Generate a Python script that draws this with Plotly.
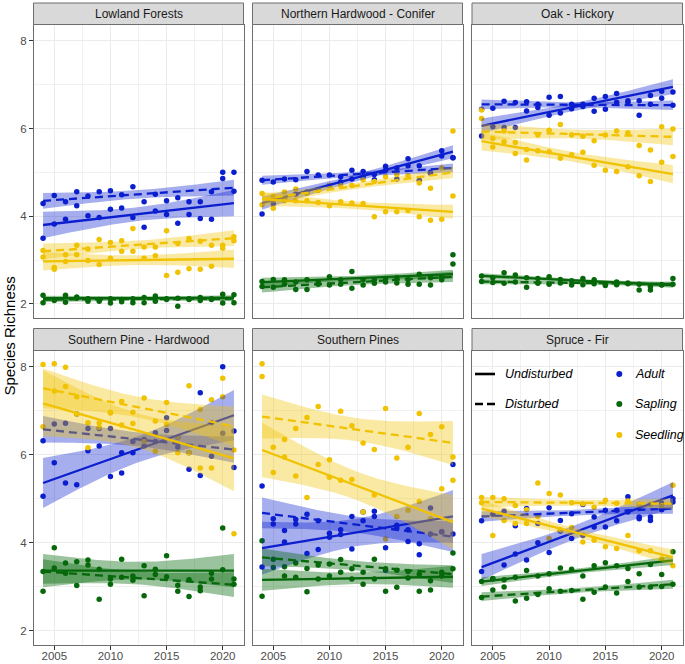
import numpy as np
import plotly.graph_objects as go

W, H = 685, 664

years = list(range(2004, 2022))
panels = ["Lowland Forests", "Northern Hardwood - Conifer", "Oak - Hickory",
          "Southern Pine - Hardwood", "Southern Pines", "Spruce - Fir"]
stages = ["Adult", "Sapling", "Seedling"]
disturbances = ["Undisturbed", "Disturbed"]
x_ticks = [2005, 2010, 2015, 2020]
y_ticks = [2, 4, 6, 8]

# ---------------- observed yearly means ----------------
# Lowland Forests
lf_adult_und = [3.50, 3.82, 3.93, 4.24, 4.01, 3.97, 4.16, 4.19, 3.97, 3.75, 4.12, 4.04, 3.84, 4.04, 3.95, 3.93, 4.86, 4.57]
lf_adult_dis = [4.29, 4.47, 4.33, 4.56, 4.46, 4.56, 4.58, 4.49, 4.67, 4.33, 4.50, 4.35, 4.42, 4.33, 4.33, 4.56, 5.00, 5.00]
lf_sapl_und = [2.20, 2.10, 2.20, 2.16, 2.12, 2.10, 2.12, 2.10, 2.12, 2.15, 2.18, 2.12, 2.13, 2.10, 2.15, 2.12, 2.22, 2.21]
lf_sapl_dis = [2.03, 2.08, 2.04, 2.13, 2.06, 2.06, 2.02, 2.05, 2.03, 2.03, 2.06, 2.10, 1.95, 2.12, 2.08, 2.10, 2.02, 2.03]
lf_seed_und = [3.07, 2.83, 2.97, 3.12, 2.99, 2.90, 3.04, 3.20, 3.20, 3.04, 3.10, 2.65, 2.72, 2.80, 2.79, 2.86, 3.27, 3.44]
lf_seed_dis = [3.22, 2.79, 3.12, 3.34, 3.25, 3.47, 3.40, 3.44, 3.72, 3.30, 3.30, 3.67, 3.38, 3.49, 3.43, 3.34, 3.34, 3.53]
# Northern Hardwood - Conifer
nh_adult_und = [4.05, 4.29, 4.40, 4.50, 4.55, 4.60, 4.70, 4.78, 4.85, 4.90, 4.95, 5.05, 5.10, 5.15, 5.15, 5.00, 5.37, 5.33]
nh_adult_dis = [4.82, 4.78, 4.85, 4.83, 5.02, 4.94, 4.94, 4.90, 5.05, 5.02, 4.83, 5.14, 4.85, 5.31, 4.82, 4.98, 5.49, 5.33]
nh_sapl_und = [2.51, 2.56, 2.55, 2.50, 2.55, 2.50, 2.62, 2.55, 2.74, 2.55, 2.55, 2.58, 2.60, 2.56, 2.68, 2.60, 2.62, 3.12]
nh_sapl_dis = [2.40, 2.38, 2.45, 2.33, 2.33, 2.45, 2.43, 2.45, 2.36, 2.43, 2.47, 2.50, 2.48, 2.45, 2.45, 2.43, 2.55, 2.91]
nh_seed_und = [4.26, 4.18, 4.35, 4.35, 4.35, 4.31, 4.24, 4.33, 4.30, 4.29, 3.99, 4.10, 4.10, 4.13, 3.99, 3.91, 3.93, 4.46]
nh_seed_dis = [4.52, 4.45, 4.55, 4.62, 4.52, 4.60, 4.70, 4.70, 4.70, 4.83, 4.79, 4.90, 4.95, 4.92, 4.76, 4.64, 5.10, 5.94]
# Oak - Hickory
oh_adult_und = [5.83, 6.04, 6.02, 6.02, 6.40, 6.48, 6.30, 6.35, 6.45, 6.50, 6.39, 6.44, 6.60, 6.63, 6.30, 6.75, 6.85, 6.83]
oh_adult_dis = [6.44, 6.46, 6.62, 6.59, 6.61, 6.55, 6.71, 6.73, 6.55, 6.55, 6.69, 6.73, 6.80, 6.60, 6.63, 6.55, 6.69, 6.53]
oh_sapl_und = [2.64, 2.60, 2.71, 2.66, 2.60, 2.58, 2.62, 2.56, 2.53, 2.58, 2.55, 2.45, 2.50, 2.48, 2.32, 2.40, 2.43, 2.58]
oh_sapl_dis = [2.51, 2.49, 2.47, 2.50, 2.38, 2.47, 2.45, 2.48, 2.43, 2.44, 2.46, 2.42, 2.44, 2.46, 2.45, 2.32, 2.44, 2.45]
oh_seed_und = [6.23, 5.58, 5.70, 5.43, 5.28, 5.49, 5.47, 5.32, 5.40, 5.46, 5.16, 5.05, 5.02, 5.13, 4.92, 4.79, 5.23, 5.36]
oh_seed_dis = [6.42, 5.77, 5.94, 5.68, 5.52, 5.85, 5.96, 6.09, 5.85, 5.82, 5.72, 5.85, 5.94, 5.90, 5.61, 5.51, 6.04, 5.99]
# Southern Pine - Hardwood
sph_adult_und = [5.06, 5.82, 5.36, 5.32, 6.09, 6.20, 5.51, 5.59, 6.05, 6.20, 6.30, 6.84, 6.18, 5.67, 7.41, 6.73, 8.00, 5.71]
sph_adult_dis = [6.32, 6.70, 6.72, 6.93, 6.60, 6.60, 6.60, 6.05, 6.30, 6.35, 6.50, 6.55, 6.40, 6.05, 5.53, 5.97, 6.49, 6.54]
sph_sapl_und = [2.90, 3.89, 3.54, 3.57, 3.61, 3.40, 3.18, 3.63, 3.25, 2.80, 3.40, 3.71, 2.90, 2.78, 2.91, 3.31, 4.34, 3.06]
sph_sapl_dis = [3.35, 3.43, 3.31, 3.03, 3.50, 2.72, 3.06, 3.22, 3.15, 3.48, 3.28, 3.23, 3.04, 3.16, 3.00, 3.18, 3.39, 3.18]
sph_seed_und = [6.64, 7.45, 7.55, 7.32, 6.16, 6.73, 6.97, 6.68, 6.71, 6.30, 6.08, 6.69, 6.05, 6.05, 5.70, 5.70, 7.32, 4.21]
sph_seed_dis = [8.05, 8.07, 7.99, 6.93, 6.73, 6.62, 6.95, 7.21, 6.97, 7.29, 6.77, 7.19, 6.40, 7.57, 7.03, 7.25, 7.74, 6.11]
# Southern Pines
sp_adult_und = [3.45, 4.55, 4.02, 4.43, 3.76, 3.85, 4.22, 4.19, 3.86, 4.50, 4.60, 3.89, 4.34, 4.03, 3.98, 4.79, 4.25, 5.78]
sp_adult_dis = [5.29, 4.43, 4.28, 4.53, 4.65, 4.50, 4.13, 4.30, 4.60, 4.70, 4.72, 3.38, 4.40, 4.30, 3.73, 4.20, 4.25, 4.20]
sp_sapl_und = [2.79, 3.44, 3.25, 3.22, 2.89, 3.18, 3.25, 3.33, 3.18, 3.06, 3.18, 2.90, 2.99, 3.20, 2.90, 2.93, 3.25, 3.41]
sp_sapl_dis = [4.05, 3.63, 3.46, 3.54, 3.42, 3.50, 3.52, 3.62, 3.41, 3.33, 3.63, 3.41, 3.38, 3.35, 3.29, 3.14, 3.33, 3.77]
sp_seed_und = [7.78, 5.60, 5.95, 5.52, 5.03, 5.78, 5.49, 5.42, 5.44, 4.70, 5.09, 4.09, 4.60, 4.74, 4.94, 4.55, 5.23, 5.42]
sp_seed_dis = [8.07, 6.17, 6.35, 6.60, 6.85, 7.10, 5.89, 6.99, 6.66, 6.27, 6.12, 7.05, 5.93, 6.17, 6.94, 6.46, 6.64, 5.95]
# Spruce - Fir
sf_adult_und = [3.35, 3.18, 3.50, 3.75, 3.61, 4.00, 3.78, 4.27, 4.10, 4.17, 4.36, 4.36, 4.50, 5.05, 4.55, 4.59, 4.90, 5.00]
sf_adult_dis = [4.50, 4.65, 4.72, 4.39, 4.78, 4.44, 4.80, 4.51, 4.66, 4.87, 4.59, 4.74, 4.74, 4.70, 4.59, 4.51, 4.75, 4.93]
sf_sapl_und = [3.12, 3.19, 3.16, 3.22, 3.37, 3.25, 3.30, 3.43, 3.40, 3.25, 3.48, 3.55, 3.48, 3.42, 3.30, 3.51, 3.28, 3.80]
sf_sapl_dis = [2.76, 2.93, 3.00, 2.68, 2.74, 2.83, 2.96, 2.90, 2.92, 2.72, 2.88, 3.00, 2.86, 3.12, 3.00, 3.00, 3.01, 3.06]
sf_seed_und = [4.91, 4.17, 4.51, 4.44, 4.44, 4.60, 4.10, 4.30, 4.35, 4.02, 4.06, 3.91, 3.87, 4.17, 3.82, 3.82, 3.64, 3.48]
sf_seed_dis = [5.03, 5.03, 5.00, 4.85, 4.75, 5.36, 5.12, 5.09, 4.91, 4.89, 4.81, 4.97, 4.90, 4.95, 4.88, 4.88, 4.85, 5.31]

# ---------------- fitted trends (value at 2004, value at 2021, CI half-width at ends) ----------------
# order: Adult-U, Adult-D, Sapling-U, Sapling-D, Seedling-U, Seedling-D
lf_fit_start = [3.80, 4.35, 2.13, 2.10, 2.97, 3.20]
lf_fit_end = [4.30, 4.65, 2.14, 2.12, 3.03, 3.50]
lf_fit_ci = [0.30, 0.18, 0.06, 0.06, 0.21, 0.18]
nh_fit_start = [4.30, 4.82, 2.50, 2.38, 4.39, 4.39]
nh_fit_end = [5.47, 5.10, 2.68, 2.62, 4.10, 5.00]
nh_fit_ci = [0.15, 0.10, 0.10, 0.12, 0.16, 0.13]
oh_fit_start = [6.06, 6.55, 2.64, 2.51, 5.71, 5.93]
oh_fit_end = [6.95, 6.53, 2.43, 2.45, 4.96, 5.81]
oh_fit_ci = [0.17, 0.11, 0.06, 0.06, 0.21, 0.19]
sph_fit_start = [5.36, 6.58, 3.37, 3.35, 7.17, 7.51]
sph_fit_end = [6.90, 6.12, 3.37, 3.05, 5.92, 6.65]
sph_fit_ci = [0.57, 0.30, 0.38, 0.28, 0.75, 0.45]
sp_fit_start = [3.88, 4.68, 3.16, 3.67, 6.11, 6.87]
sp_fit_end = [4.60, 4.14, 3.23, 3.29, 4.47, 6.27]
sp_fit_ci = [0.60, 0.35, 0.25, 0.20, 0.62, 0.50]
sf_fit_start = [3.45, 4.60, 3.12, 2.78, 4.78, 4.93]
sf_fit_end = [5.08, 4.78, 3.60, 3.06, 3.67, 4.89]
sf_fit_ci = [0.30, 0.12, 0.10, 0.10, 0.18, 0.12]

panel_points = {
    "Lowland Forests": [lf_adult_und, lf_adult_dis, lf_sapl_und, lf_sapl_dis, lf_seed_und, lf_seed_dis],
    "Northern Hardwood - Conifer": [nh_adult_und, nh_adult_dis, nh_sapl_und, nh_sapl_dis, nh_seed_und, nh_seed_dis],
    "Oak - Hickory": [oh_adult_und, oh_adult_dis, oh_sapl_und, oh_sapl_dis, oh_seed_und, oh_seed_dis],
    "Southern Pine - Hardwood": [sph_adult_und, sph_adult_dis, sph_sapl_und, sph_sapl_dis, sph_seed_und, sph_seed_dis],
    "Southern Pines": [sp_adult_und, sp_adult_dis, sp_sapl_und, sp_sapl_dis, sp_seed_und, sp_seed_dis],
    "Spruce - Fir": [sf_adult_und, sf_adult_dis, sf_sapl_und, sf_sapl_dis, sf_seed_und, sf_seed_dis],
}
panel_fits = {
    "Lowland Forests": (lf_fit_start, lf_fit_end, lf_fit_ci),
    "Northern Hardwood - Conifer": (nh_fit_start, nh_fit_end, nh_fit_ci),
    "Oak - Hickory": (oh_fit_start, oh_fit_end, oh_fit_ci),
    "Southern Pine - Hardwood": (sph_fit_start, sph_fit_end, sph_fit_ci),
    "Southern Pines": (sp_fit_start, sp_fit_end, sp_fit_ci),
    "Spruce - Fir": (sf_fit_start, sf_fit_end, sf_fit_ci),
}

stage_color = {"Adult": "#0B1FCF", "Sapling": "#06680A", "Seedling": "#F0C200"}
ribbon_color = {"Adult": "rgba(11,31,207,0.36)", "Sapling": "rgba(6,104,10,0.40)",
                "Seedling": "rgba(240,194,0,0.36)"}
dash_style = {"Undisturbed": "solid", "Disturbed": "8px,5px"}

# ---------------- layout geometry (pixels) ----------------
cols = [(33.5, 243.5), (252.5, 462.5), (472.0, 682.5)]
rows = [((3.0, 24.5), (24.5, 318.0)), ((328.5, 350.5), (350.5, 645.0))]
XR = [2003.15, 2021.85]
YR = [1.68, 8.37]
FONT = "Liberation Sans, Arial, sans-serif"


def fx(px):
    return px / W


def fy(px):
    return 1 - px / H


fig = go.Figure()
layout = dict(width=W, height=H, margin=dict(l=0, r=0, t=0, b=0),
              plot_bgcolor="white", paper_bgcolor="white", showlegend=False,
              font=dict(family=FONT))
shapes = []
annotations = []

n = len(years)
xm = np.mean(years)
sxx = np.sum((np.array(years) - xm) ** 2)
xs = np.linspace(years[0], years[-1], 60)
shape_fac = np.sqrt(1 / n + (xs - xm) ** 2 / sxx) / np.sqrt(1 / n + (years[0] - xm) ** 2 / sxx)

for i, name in enumerate(panels):
    k = i + 1
    r, c = divmod(i, 3)
    xa, ya = ("x" if k == 1 else f"x{k}"), ("y" if k == 1 else f"y{k}")
    (s0, s1), (p0, p1) = rows[r]
    c0, c1 = cols[c]

    series = panel_points[name]
    # points first
    idx = 0
    for st in stages:
        for d in disturbances:
            fig.add_trace(go.Scatter(x=years, y=series[idx], mode="markers", xaxis=xa, yaxis=ya,
                                     marker=dict(size=5.5, color=stage_color[st], line=dict(width=0)),
                                     hoverinfo="skip"))
            idx += 1
    # smooths (ribbon then line), grouped
    fs, fe, fc = panel_fits[name]
    idx = 0
    for st in stages:
        for d in disturbances:
            a, b, w = fs[idx], fe[idx], fc[idx]
            mid = a + (b - a) * (xs - years[0]) / (years[-1] - years[0])
            up = mid + w * shape_fac
            lo = mid - w * shape_fac
            fig.add_trace(go.Scatter(x=np.concatenate([xs, xs[::-1]]), y=np.concatenate([up, lo[::-1]]),
                                     mode="lines", fill="toself", fillcolor=ribbon_color[st],
                                     line=dict(width=0), xaxis=xa, yaxis=ya, hoverinfo="skip"))
            fig.add_trace(go.Scatter(x=[years[0], years[-1]], y=[a, b], mode="lines",
                                     line=dict(color=stage_color[st], width=2.3, dash=dash_style[d]),
                                     xaxis=xa, yaxis=ya, hoverinfo="skip"))
            idx += 1

    xkey = "xaxis" if k == 1 else f"xaxis{k}"
    ykey = "yaxis" if k == 1 else f"yaxis{k}"
    layout[xkey] = dict(domain=[fx(c0), fx(c1)], range=XR, anchor=ya, automargin=False,
                        tickmode="array", tickvals=x_ticks, ticktext=[str(t) for t in x_ticks],
                        showgrid=True, gridcolor="#EBEBEB", gridwidth=1,
                        minor=dict(tickmode="array", tickvals=[2007.5, 2012.5, 2017.5], showgrid=True,
                                   gridcolor="#F1F1F1", gridwidth=0.6),
                        showline=True, mirror=True, linecolor="#6E6E6E", linewidth=1, zeroline=False,
                        ticks="outside" if r == 1 else "", ticklen=3.5, tickcolor="#333333", tickwidth=1,
                        ticklabelstandoff=-3,
                        showticklabels=(r == 1), tickfont=dict(size=11.5, color="#4D4D4D", family=FONT))
    layout[ykey] = dict(domain=[fy(p1), fy(p0)], range=YR, anchor=xa, automargin=False,
                        tickmode="array", tickvals=y_ticks, ticktext=[str(t) for t in y_ticks],
                        showgrid=True, gridcolor="#EBEBEB", gridwidth=1,
                        minor=dict(tickmode="array", tickvals=[3, 5, 7], showgrid=True,
                                   gridcolor="#F1F1F1", gridwidth=0.6),
                        showline=True, mirror=True, linecolor="#6E6E6E", linewidth=1, zeroline=False,
                        ticks="outside" if c == 0 else "", ticklen=3.5, tickcolor="#333333", tickwidth=1,
                        showticklabels=(c == 0), tickfont=dict(size=11.5, color="#4D4D4D", family=FONT))

    # strip
    shapes.append(dict(type="rect", xref="paper", yref="paper", x0=fx(c0), x1=fx(c1), y0=fy(s1), y1=fy(s0),
                       fillcolor="#D9D9D9", line=dict(color="#6E6E6E", width=1), layer="above"))
    annotations.append(dict(text=name, xref="paper", yref="paper", x=fx((c0 + c1) / 2), y=fy((s0 + s1) / 2),
                            showarrow=False, xanchor="center", yanchor="middle",
                            font=dict(size=12, color="#1A1A1A", family=FONT)))

# y-axis title
annotations.append(dict(text="Species Richness", xref="paper", yref="paper", x=fx(8.5), y=fy(336),
                        showarrow=False, textangle=-90, xanchor="center", yanchor="middle",
                        font=dict(size=15, color="#000000", family=FONT)))

# legend drawn inside the Spruce - Fir panel
leg_font = dict(size=12.5, color="#000000", family=FONT)
shapes.append(dict(type="line", xref="paper", yref="paper", x0=fx(475), x1=fx(495), y0=fy(374), y1=fy(374),
                   line=dict(color="#000000", width=2.6)))
shapes.append(dict(type="line", xref="paper", yref="paper", x0=fx(475), x1=fx(495), y0=fy(404), y1=fy(404),
                   line=dict(color="#000000", width=2.6, dash="8px,4px")))
annotations.append(dict(text="<i>Undisturbed</i>", xref="paper", yref="paper", x=fx(503), y=fy(374),
                        showarrow=False, xanchor="left", yanchor="middle", font=leg_font))
annotations.append(dict(text="<i>Disturbed</i>", xref="paper", yref="paper", x=fx(503), y=fy(404),
                        showarrow=False, xanchor="left", yanchor="middle", font=leg_font))
for st, ypx in zip(stages, [374, 404, 435]):
    shapes.append(dict(type="circle", xref="paper", yref="paper", x0=fx(616.3), x1=fx(622.3),
                       y0=fy(ypx + 3), y1=fy(ypx - 3), fillcolor=stage_color[st], line=dict(width=0)))
    annotations.append(dict(text=f"<i>{st}</i>", xref="paper", yref="paper", x=fx(633), y=fy(ypx),
                            showarrow=False, xanchor="left", yanchor="middle", font=leg_font))

layout["shapes"] = shapes
layout["annotations"] = annotations
fig.update_layout(**layout)
fig.write_html("out.html")
